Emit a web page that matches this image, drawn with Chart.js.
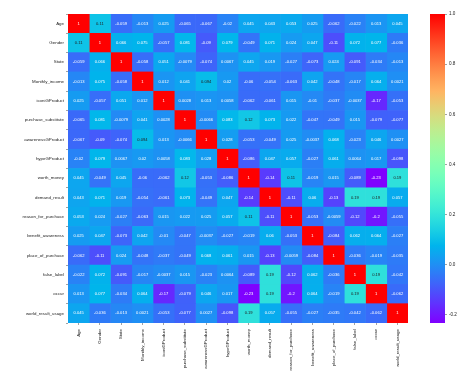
<!DOCTYPE html>
<html>
<head>
<meta charset="utf-8">
<script src="https://cdn.jsdelivr.net/npm/chart.js@4"></script>
<style>
html, body { margin: 0; padding: 0; background: #fff; }
canvas { position: absolute; top: 0; }
</style>
</head>
<body>
<canvas id="heat" width="420" height="375" style="left:0px"></canvas>
<canvas id="cbar" width="54" height="375" style="left:420px"></canvas>
<script>
// popisky radku a sloupcu (stejne poradi)
const labels = ['Age', 'Gender', 'State', 'Monthly_income', 'iconiGProduct', 'purchase_substitute',
  'awarenessGProduct', 'hypeGProduct', 'worth_money', 'demand_result', 'reason_for_purchase',
  'benefit_awareness', 'place_of_purchase', 'false_label', 'occur', 'world_result_usage'];

// korelace po radcich
const rowAge = [1, 0.11, -0.059, -0.013, 0.025, -0.065, -0.067, -0.02, 0.045, 0.043, 0.053, 0.025, -0.062, -0.022, 0.013, 0.045];
const rowGender = [0.11, 1, 0.066, 0.075, -0.057, 0.081, -0.09, 0.079, -0.049, 0.071, 0.024, 0.047, -0.11, 0.072, 0.077, -0.036];
const rowState = [-0.059, 0.066, 1, -0.058, 0.051, -0.0079, -0.074, 0.0067, 0.045, 0.019, -0.027, -0.073, 0.024, -0.091, -0.034, -0.013];
const rowIncome = [-0.013, 0.075, -0.058, 1, 0.012, 0.041, 0.094, 0.02, -0.06, -0.054, -0.063, 0.042, -0.048, -0.017, 0.064, 0.0021];
const rowIconi = [0.025, -0.057, 0.051, 0.012, 1, 0.0028, 0.013, 0.0058, -0.062, -0.061, 0.015, -0.01, -0.037, -0.0037, -0.17, -0.053];
const rowSubstitute = [-0.065, 0.081, -0.0079, 0.041, 0.0028, 1, -0.0066, 0.083, 0.12, 0.073, 0.022, -0.047, -0.049, 0.015, -0.079, -0.077];
const rowAwareness = [-0.067, -0.09, -0.074, 0.094, 0.013, -0.0066, 1, 0.028, -0.053, -0.049, 0.025, -0.0037, 0.068, -0.023, 0.046, 0.0027];
const rowHype = [-0.02, 0.079, 0.0067, 0.02, 0.0058, 0.083, 0.028, 1, -0.086, 0.047, 0.057, -0.027, 0.061, 0.0064, 0.017, -0.098];
const rowWorth = [0.045, -0.049, 0.045, -0.06, -0.062, 0.12, -0.053, -0.086, 1, -0.14, 0.11, -0.019, 0.015, -0.089, -0.23, 0.19];
const rowDemand = [0.043, 0.071, 0.019, -0.054, -0.061, 0.073, -0.049, 0.047, -0.14, 1, -0.11, 0.06, -0.13, 0.19, 0.19, 0.057];
const rowReason = [0.053, 0.024, -0.027, -0.063, 0.015, 0.022, 0.025, 0.057, 0.11, -0.11, 1, -0.053, -0.0059, -0.12, -0.2, -0.055];
const rowBenefit = [0.025, 0.047, -0.073, 0.042, -0.01, -0.047, -0.0037, -0.027, -0.019, 0.06, -0.053, 1, -0.084, 0.062, 0.064, -0.027];
const rowPlace = [-0.062, -0.11, 0.024, -0.048, -0.037, -0.049, 0.068, 0.061, 0.015, -0.13, -0.0059, -0.084, 1, -0.036, -0.019, -0.035];
const rowFalse = [-0.022, 0.072, -0.091, -0.017, -0.0037, 0.015, -0.023, 0.0064, -0.089, 0.19, -0.12, 0.062, -0.036, 1, 0.19, -0.042];
const rowOccur = [0.013, 0.077, -0.034, 0.064, -0.17, -0.079, 0.046, 0.017, -0.23, 0.19, -0.2, 0.064, -0.019, 0.19, 1, -0.062];
const rowWorld = [0.045, -0.036, -0.013, 0.0021, -0.053, -0.077, 0.0027, -0.098, 0.19, 0.057, -0.055, -0.027, -0.035, -0.042, -0.062, 1];

const corr = [rowAge, rowGender, rowState, rowIncome, rowIconi, rowSubstitute, rowAwareness, rowHype,
  rowWorth, rowDemand, rowReason, rowBenefit, rowPlace, rowFalse, rowOccur, rowWorld];

// rozsah barevne skaly, krok popisku colorbaru
const vMin = -0.232;
const vMax = 1;
const cbarStep = 0.2;

const FONT = '"Liberation Sans", Arial, sans-serif';

// matplotlib 'rainbow'
function rainbow(t) {
  t = Math.min(1, Math.max(0, t));
  return [
    Math.min(1, Math.abs(2 * t - 0.5)),
    Math.max(0, Math.sin(t * Math.PI)),
    Math.max(0, Math.cos(t * Math.PI / 2))
  ];
}

function toCss(rgb) {
  return 'rgb(' + rgb.map(c => Math.round(c * 255)).join(',') + ')';
}

function colorFor(v) {
  return toCss(rainbow((v - vMin) / (vMax - vMin)));
}

// stejne pravidlo jako seaborn: svetle pozadi -> tmavy text
function textColor(v) {
  let rgb = rainbow((v - vMin) / (vMax - vMin));
  let lin = rgb.map(c => c <= 0.03928 ? c / 12.92 : Math.pow((c + 0.055) / 1.055, 2.4));
  let lum = 0.2126 * lin[0] + 0.7152 * lin[1] + 0.0722 * lin[2];
  return lum > 0.408 ? '#222' : '#fff';
}

// colorbar jako jeden plovouci bar s gradientem
function cbarGradient(chart) {
  let area = chart.chartArea;
  if (!area) return null;
  let g = chart.ctx.createLinearGradient(0, area.bottom, 0, area.top);
  for (let k = 0; k <= 64; k++) {
    g.addColorStop(k / 64, toCss(rainbow(k / 64)));
  }
  return g;
}

// popisky colorbaru piseme sami, ale z ticku a pozic samotne osy
const cbarLabels = {
  id: 'cbarLabels',
  afterDraw(chart) {
    let scale = chart.scales.y;
    let ctx = chart.ctx;
    ctx.save();
    ctx.font = '4.6px ' + FONT;
    ctx.fillStyle = '#222';
    ctx.textAlign = 'left';
    ctx.textBaseline = 'middle';
    scale.ticks.forEach(t => {
      ctx.fillText(t.value.toFixed(1), scale.left + 4, scale.getPixelForValue(t.value));
    });
    ctx.restore();
  }
};

new Chart(document.getElementById('cbar'), {
  type: 'bar',
  data: {
    labels: [''],
    datasets: [{
      data: [[vMin, vMax]],
      backgroundColor: ctx => cbarGradient(ctx.chart),
      borderWidth: 0,
      barPercentage: 1,
      categoryPercentage: 1
    }]
  },
  plugins: [cbarLabels],
  options: {
    responsive: false,
    animation: false,
    layout: { padding: { left: 10, top: 14, right: 0, bottom: 52 } },
    plugins: { legend: { display: false }, tooltip: { enabled: false } },
    scales: {
      x: { display: false },
      y: {
        position: 'right',
        min: vMin,
        max: vMax,
        grid: { drawOnChartArea: false, tickLength: 2, color: '#444', lineWidth: 0.5 },
        border: { display: false },
        ticks: {
          stepSize: cbarStep,
          includeBounds: false,
          autoSkip: false,
          display: false
        },
        afterFit: s => { s.width = 29; }
      }
    }
  }
});

// kazdy sloupec je jeden dataset, radky jsou naskladane bary
let datasets = labels.map((name, j) => ({
  label: name,
  data: labels.map(() => 1),
  backgroundColor: corr.map(row => colorFor(row[j])),
  borderWidth: 0,
  barPercentage: 1,
  categoryPercentage: 1
}));

const cellText = {
  id: 'cellText',
  afterDatasetsDraw(chart) {
    let ctx = chart.ctx;
    ctx.save();
    ctx.font = '4.1px ' + FONT;
    ctx.textAlign = 'center';
    ctx.textBaseline = 'middle';
    chart.data.datasets.forEach((ds, j) => {
      chart.getDatasetMeta(j).data.forEach((el, i) => {
        let v = corr[i][j];
        ctx.fillStyle = textColor(v);
        ctx.fillText(String(v), (el.x + el.base) / 2, el.y);
      });
    });
    ctx.restore();
  }
};

new Chart(document.getElementById('heat'), {
  type: 'bar',
  data: { labels: labels, datasets: datasets },
  plugins: [cellText],
  options: {
    indexAxis: 'y',
    responsive: false,
    animation: false,
    layout: { padding: { left: 0, top: 14, right: 12, bottom: 0 } },
    plugins: { legend: { display: false }, tooltip: { enabled: false } },
    scales: {
      x: { display: false, stacked: true, min: 0, max: labels.length },
      xl: {
        type: 'category',
        position: 'bottom',
        labels: labels,
        offset: true,
        grid: { drawOnChartArea: false, tickLength: 2, color: '#444', lineWidth: 0.5 },
        border: { display: false },
        ticks: { font: { size: 4.4, family: FONT }, color: '#222', minRotation: 90, maxRotation: 90, padding: 4, autoSkip: false },
        afterFit: s => { s.height = 52; }
      },
      y: {
        stacked: true,
        grid: { drawOnChartArea: false, tickLength: 2, color: '#444', lineWidth: 0.5 },
        border: { display: false },
        ticks: { font: { size: 4.4, family: FONT }, color: '#222', padding: 2, autoSkip: false },
        afterFit: s => { s.width = 68; }
      }
    }
  }
});
</script>
</body>
</html>
